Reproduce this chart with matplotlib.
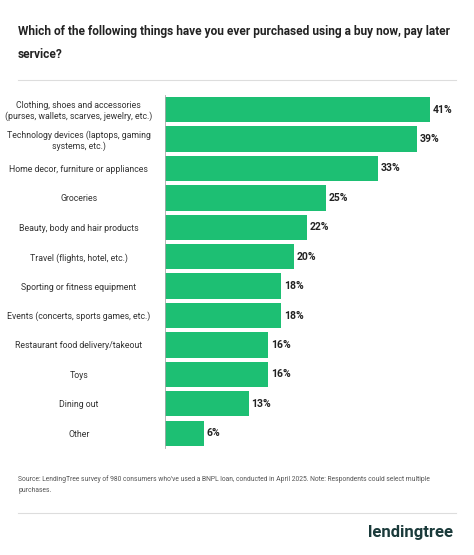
import matplotlib
matplotlib.use("Agg")
import matplotlib.pyplot as plt

categories = ["Clothing, shoes and accessories\n(purses, wallets, scarves, jewelry, etc.)",
              "Technology devices (laptops, gaming\nsystems, etc.)",
              "Home decor, furniture or appliances",
              "Groceries",
              "Beauty, body and hair products",
              "Travel (flights, hotel, etc.)",
              "Sporting or fitness equipment",
              "Events (concerts, sports games, etc.)",
              "Restaurant food delivery/takeout",
              "Toys",
              "Dining out",
              "Other"]
values = [41, 39, 33, 25, 22, 20, 18, 18, 16, 16, 13, 6]

plt.rcParams['font.family'] = ['Roboto', 'DejaVu Sans']
fig = plt.figure(figsize=(4.74, 5.55), dpi=100)
fig.text(0.038, 0.955, "Which of the following things have you ever purchased using a buy now, pay later\nservice?",
         fontsize=8.6, fontweight='bold', va='top', ha='left', color='#222222', linespacing=2.0)
fig.add_artist(plt.Line2D([0.038, 0.962], [0.855, 0.855], color='#dddddd', lw=0.8))

ax = fig.add_axes([0.348, 0.193, 0.612, 0.636])
y = list(range(len(values)))
ax.barh(y, values, height=0.86, color='#1dbf73')
ax.set_ylim(len(values) - 0.5, -0.5)
ax.set_xlim(0, 44.9)
for i, v in enumerate(values):
    ax.text(v + 0.4, i, f"{v}%", va='center', ha='left', fontsize=7.5, fontweight='bold', color='#222222')
ax.set_yticks(y)
ax.set_yticklabels(categories, fontsize=6.3, color='#333333', ha='center')
ax.tick_params(axis='y', length=0, pad=62)
ax.set_xticks([])
for s in ['top', 'right', 'bottom']:
    ax.spines[s].set_visible(False)
ax.spines['left'].set_color('#aaaaaa')
ax.spines['left'].set_linewidth(0.6)

fig.text(0.038, 0.143, "Source: LendingTree survey of 980 consumers who've used a BNPL loan, conducted in April 2025. Note: Respondents could select multiple\npurchases.",
         fontsize=4.9, color='#555555', va='top', ha='left', linespacing=1.7)
fig.add_artist(plt.Line2D([0.038, 0.962], [0.075, 0.075], color='#dddddd', lw=0.8))
fig.text(0.955, 0.04, "lendingtree", fontsize=12, fontweight='bold', color='#1a3a3a', ha='right', va='center')
fig.savefig("out.png", dpi=100, facecolor='white')
